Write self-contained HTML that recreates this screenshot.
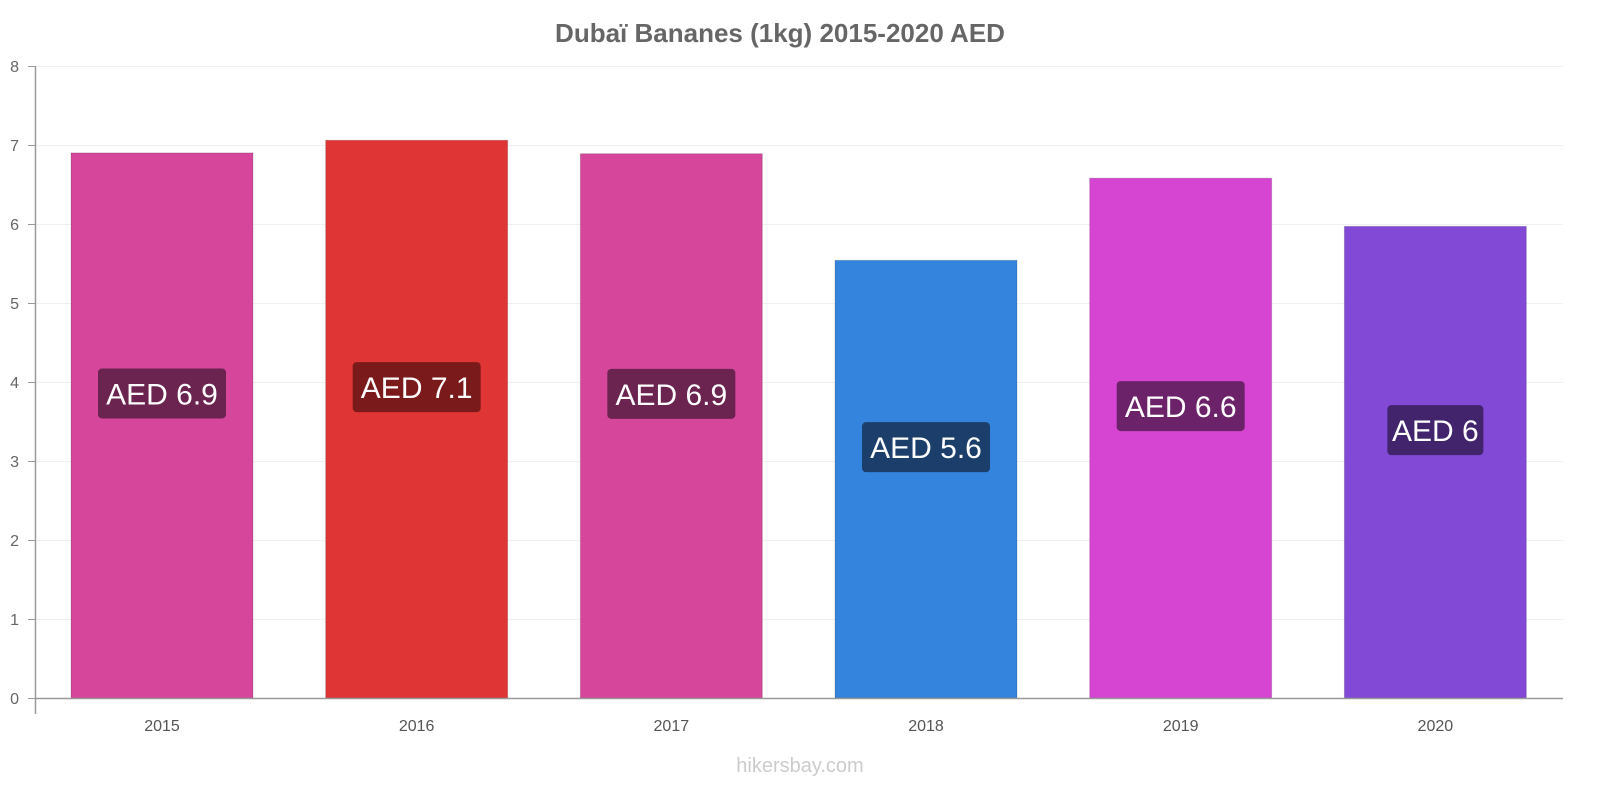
<!DOCTYPE html>
<html><head><meta charset="utf-8"><style>
body{margin:0;background:#fff;font-family:"Liberation Sans",sans-serif}
</style></head><body>
<svg id="chart" width="1600" height="800" xmlns="http://www.w3.org/2000/svg" font-family="Liberation Sans, sans-serif">
<text x="780" y="42" text-anchor="middle" font-size="26" font-weight="bold" fill="#666">Dubaï Bananes (1kg) 2015-2020 AED</text>
<g id="grid"></g><g id="bars"></g>
<line x1="35.5" y1="66" x2="35.5" y2="714" stroke="#999" stroke-width="1.5"/>
<line x1="35" y1="698.5" x2="1563" y2="698.5" stroke="#999" stroke-width="1.5"/>
<text x="800" y="772" text-anchor="middle" font-size="20" fill="#ccc">hikersbay.com</text>
</svg>
<script>
const categories=["2015","2016","2017","2018","2019","2020"];
const values=[6.9,7.06,6.89,5.54,6.58,5.97];
const labels=["AED 6.9","AED 7.1","AED 6.9","AED 5.6","AED 6.6","AED 6"];
const yTicks=[0,1,2,3,4,5,6,7,8];
const colors=["#d6479b","#e03535","#d6479b","#3483dd","#d545d1","#8249d6"];
const labelBg=["#6b2350","#7a1a1a","#6b2350","#1b3f6a","#6b2269","#41246b"];
const NS="http://www.w3.org/2000/svg";
const y=v=>698-v*79, x0=35, bw=254.67;
const g=document.getElementById('grid'), b=document.getElementById('bars');
function mk(t,a,p){const e=document.createElementNS(NS,t);for(const k in a)e.setAttribute(k,a[k]);p.appendChild(e);return e;}
yTicks.forEach(t=>{
 const l=mk('line',{x1:35,x2:1563,y1:y(t)+.5,y2:y(t)+.5,stroke:t?'#f0f0f0':'none'},g);
 
 
 mk('line',{x1:28,x2:35,y1:y(t)+.5,y2:y(t)+.5,stroke:'#999'},g);
 const tx=mk('text',{x:19,y:y(t)+6,'text-anchor':'end','font-size':16,fill:'#666'},g);tx.textContent=t;
 
 
});
categories.forEach((c,i)=>{
 const left=x0+i*bw+36, w=182, top=y(values[i]);
 const r=mk('rect',{x:left,y:top,width:w,height:698-top,fill:colors[i],stroke:'rgba(0,0,0,0.15)'},b);
 
 
 const cx=left+w/2, cy=(top+698)/2-32;
 const tw=labels[i].length*16+16;
 const lb=mk('rect',{x:cx-tw/2,y:cy-25,width:tw,height:50,rx:4,fill:labelBg[i]},b);
 
 
 const t=mk('text',{x:cx,y:cy+11,'text-anchor':'middle','font-size':30,fill:'#fff'},b);t.textContent=labels[i];
 
 
 const xl=mk('text',{x:cx,y:731,'text-anchor':'middle','font-size':16,fill:'#555'},b);xl.textContent=c;
 
 
});
</script>
</body></html>
